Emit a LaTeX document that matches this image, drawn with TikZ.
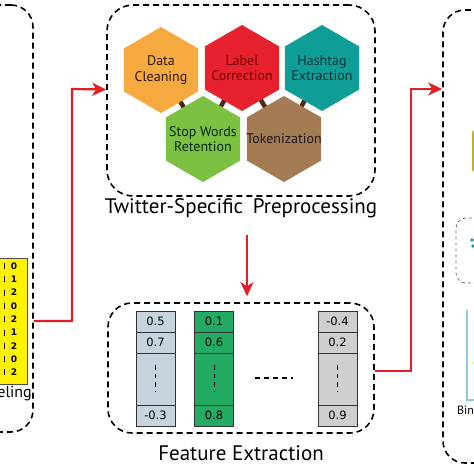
\documentclass[tikz,border=0pt]{standalone}
\usepackage{fontspec}
\setmainfont{PT Sans}
\newfontfamily\numfont{DejaVu Sans}
\usetikzlibrary{arrows.meta,shapes.geometric,backgrounds,positioning}
\definecolor{arrred}{HTML}{E31E24}
\definecolor{hexorange}{HTML}{F5A93E}
\definecolor{hexred}{HTML}{E8212F}
\definecolor{hexteal}{HTML}{0E9E97}
\definecolor{hexgreen}{HTML}{7DC143}
\definecolor{hexbrown}{HTML}{A57B54}
\definecolor{linkbrown}{HTML}{4A2A14}
\definecolor{colblue}{HTML}{C6D4DE}
\definecolor{colgreen}{HTML}{24AB63}
\definecolor{colgray}{HTML}{CFCFCF}
\definecolor{tabyellow}{HTML}{FFF200}
\definecolor{olive}{HTML}{BCAD3C}
\definecolor{lightblue}{HTML}{8FCBDC}
\tikzset{
  dbox/.style={draw=black, dash pattern=on 6pt off 4pt, line width=1.6pt, rounded corners=22pt, inner sep=0pt},
  hexnode/.style={regular polygon, regular polygon sides=6, shape border rotate=30, minimum size=86pt, inner sep=0pt},
  hextext/.style={align=center, inner sep=0pt, font=\fontsize{14}{15.5}\selectfont},
  link/.style={draw=linkbrown, line width=4.5pt},
  redarrow/.style={draw=arrred, line width=2.2pt, -{Stealth[length=14pt,width=13pt,inset=4pt]}},
  cell/.style={draw=black!80, line width=0.9pt, minimum width=39pt, inner sep=0pt, font=\numfont\fontsize{11.5}{12}\selectfont},
  biglabel/.style={font=\fontsize{21}{24}\selectfont, inner sep=0pt},
}
\begin{document}
\begin{tikzpicture}[x=1pt,y=-1pt]
\useasboundingbox (0,0) rectangle (474,474);
\clip (0,0) rectangle (474,474);

% left panel
\node[dbox, minimum width=80pt, minimum height=427pt] (leftbox) at (-7,218.5) {};
\node[draw=black!70, line width=0.8pt, fill=tabyellow, minimum width=37pt, minimum height=126pt, inner sep=0pt] (tab) at (8.5,321) {};
\foreach \d [count=\i from 0] in {0,1,2,0,2,1,2,0,2}{
  \draw[line width=1pt] (4.5,{263+\i*13.3}) -- (4.5,{269+\i*13.3});
  \node[font=\numfont\bfseries\fontsize{9}{10}\selectfont, inner sep=0pt] (d\i) at (14,{266+\i*13.3}) {\d};
}
\node[font=\fontsize{16}{18}\selectfont, anchor=base east, inner sep=0pt] (lablab) at (32,397) {Labeling};

% preprocessing panel
\node[dbox, minimum width=268pt, minimum height=191pt, rounded corners=26pt] (pre) at (241,100.5) {};
\node[hexnode, fill=hexorange] (dc) at (161,70) {};
\node[hexnode, fill=hexred] (lc) at (242,68) {};
\node[hexnode, fill=hexteal] (he) at (322,68) {};
\node[hexnode, fill=hexgreen] (sw) at (203,139) {};
\node[hexnode, fill=hexbrown] (tk) at (284,139) {};
\node[hextext, text=black!80!brown] (dct) at (dc) {Data\\Cleaning};
\node[hextext, text=black!55!red] (lct) at (lc) {Label\\Correction};
\node[hextext, text=black!60!teal] (het) at (he) {Hashtag\\Extraction};
\node[hextext, text=black!85!green] (swt) at (sw) {Stop Words\\Retention};
\node[hextext, text=black!90] (tkt) at (tk) {Tokenization};
\begin{pgfonlayer}{background}
\fill[white] (0,0) rectangle (474,474);
\draw[link] (dc.center) -- (sw.center);
\draw[link] (lc.center) -- (sw.center);
\draw[link] (lc.center) -- (tk.center);
\draw[link] (he.center) -- (tk.center);
\end{pgfonlayer}
\node[biglabel] (pretitle) at (241,208) {Twitter-Specific\hspace{0.2em} Preprocessing};

% feature extraction panel
\node[dbox, minimum width=266pt, minimum height=130pt, rounded corners=24pt] (feat) at (241,368) {};
\foreach \col/\xc/\fc/\a/\b/\c in {c1/155.5/colblue/0.5/0.7/-0.3, c2/214/colgreen/0.1/0.6/0.8, c3/337.5/colgray/-0.4/0.2/0.9}{
  \node[cell, fill=\fc, minimum height=21pt] (\col a) at (\xc,321.5) {\a};
  \node[cell, fill=\fc, minimum height=21pt] (\col b) at (\xc,342.5) {\b};
  \node[cell, fill=\fc, minimum height=52pt] (\col m) at (\xc,379) {};
  \node[cell, fill=\fc, minimum height=21pt] (\col c) at (\xc,415.5) {\c};
  \draw[line width=1pt, dash pattern=on 4.5pt off 4pt] (\xc,365) -- (\xc,392);
}
\draw[line width=1.2pt, dash pattern=on 5pt off 4pt] (255,378) -- (293,378);
\node[biglabel] (feattitle) at (241,453) {Feature Extraction};

% right panel
\node[dbox, minimum width=100pt, minimum height=453pt] (rightbox) at (493,236.5) {};
\node[fill=olive, rounded corners=3pt, minimum width=36pt, minimum height=42pt] (olv) at (490,151) {};
\node[draw=black!60, dashed, line width=0.7pt, rounded corners=10pt, minimum width=50pt, minimum height=65pt] (small) at (481,250.5) {};
\fill[hexteal] (472,240) circle (1.8);
\fill[hexteal] (473,246) circle (1.8);
\draw[lightblue, line width=1.1pt] (467,310) -- (467,400) -- (490,400);
\fill[tabyellow] (475,363) circle (2.2);
\node[font=\fontsize{12}{14}\selectfont, anchor=base west, inner sep=0pt] (bin) at (457,414) {Binary};

% arrows
\draw[redarrow] (tab.east -| leftbox.east) -| (72,89) -- ([yshift=11pt]pre.west);
\draw[redarrow, shorten <=17pt, shorten >=6pt] ([xshift=6pt]pretitle.south) -- ([xshift=6pt]feat.north);
\draw[redarrow] ([yshift=-3pt]feat.east) -| (411,89) -- (rightbox.west |- 0,89);
\end{tikzpicture}
\end{document}
